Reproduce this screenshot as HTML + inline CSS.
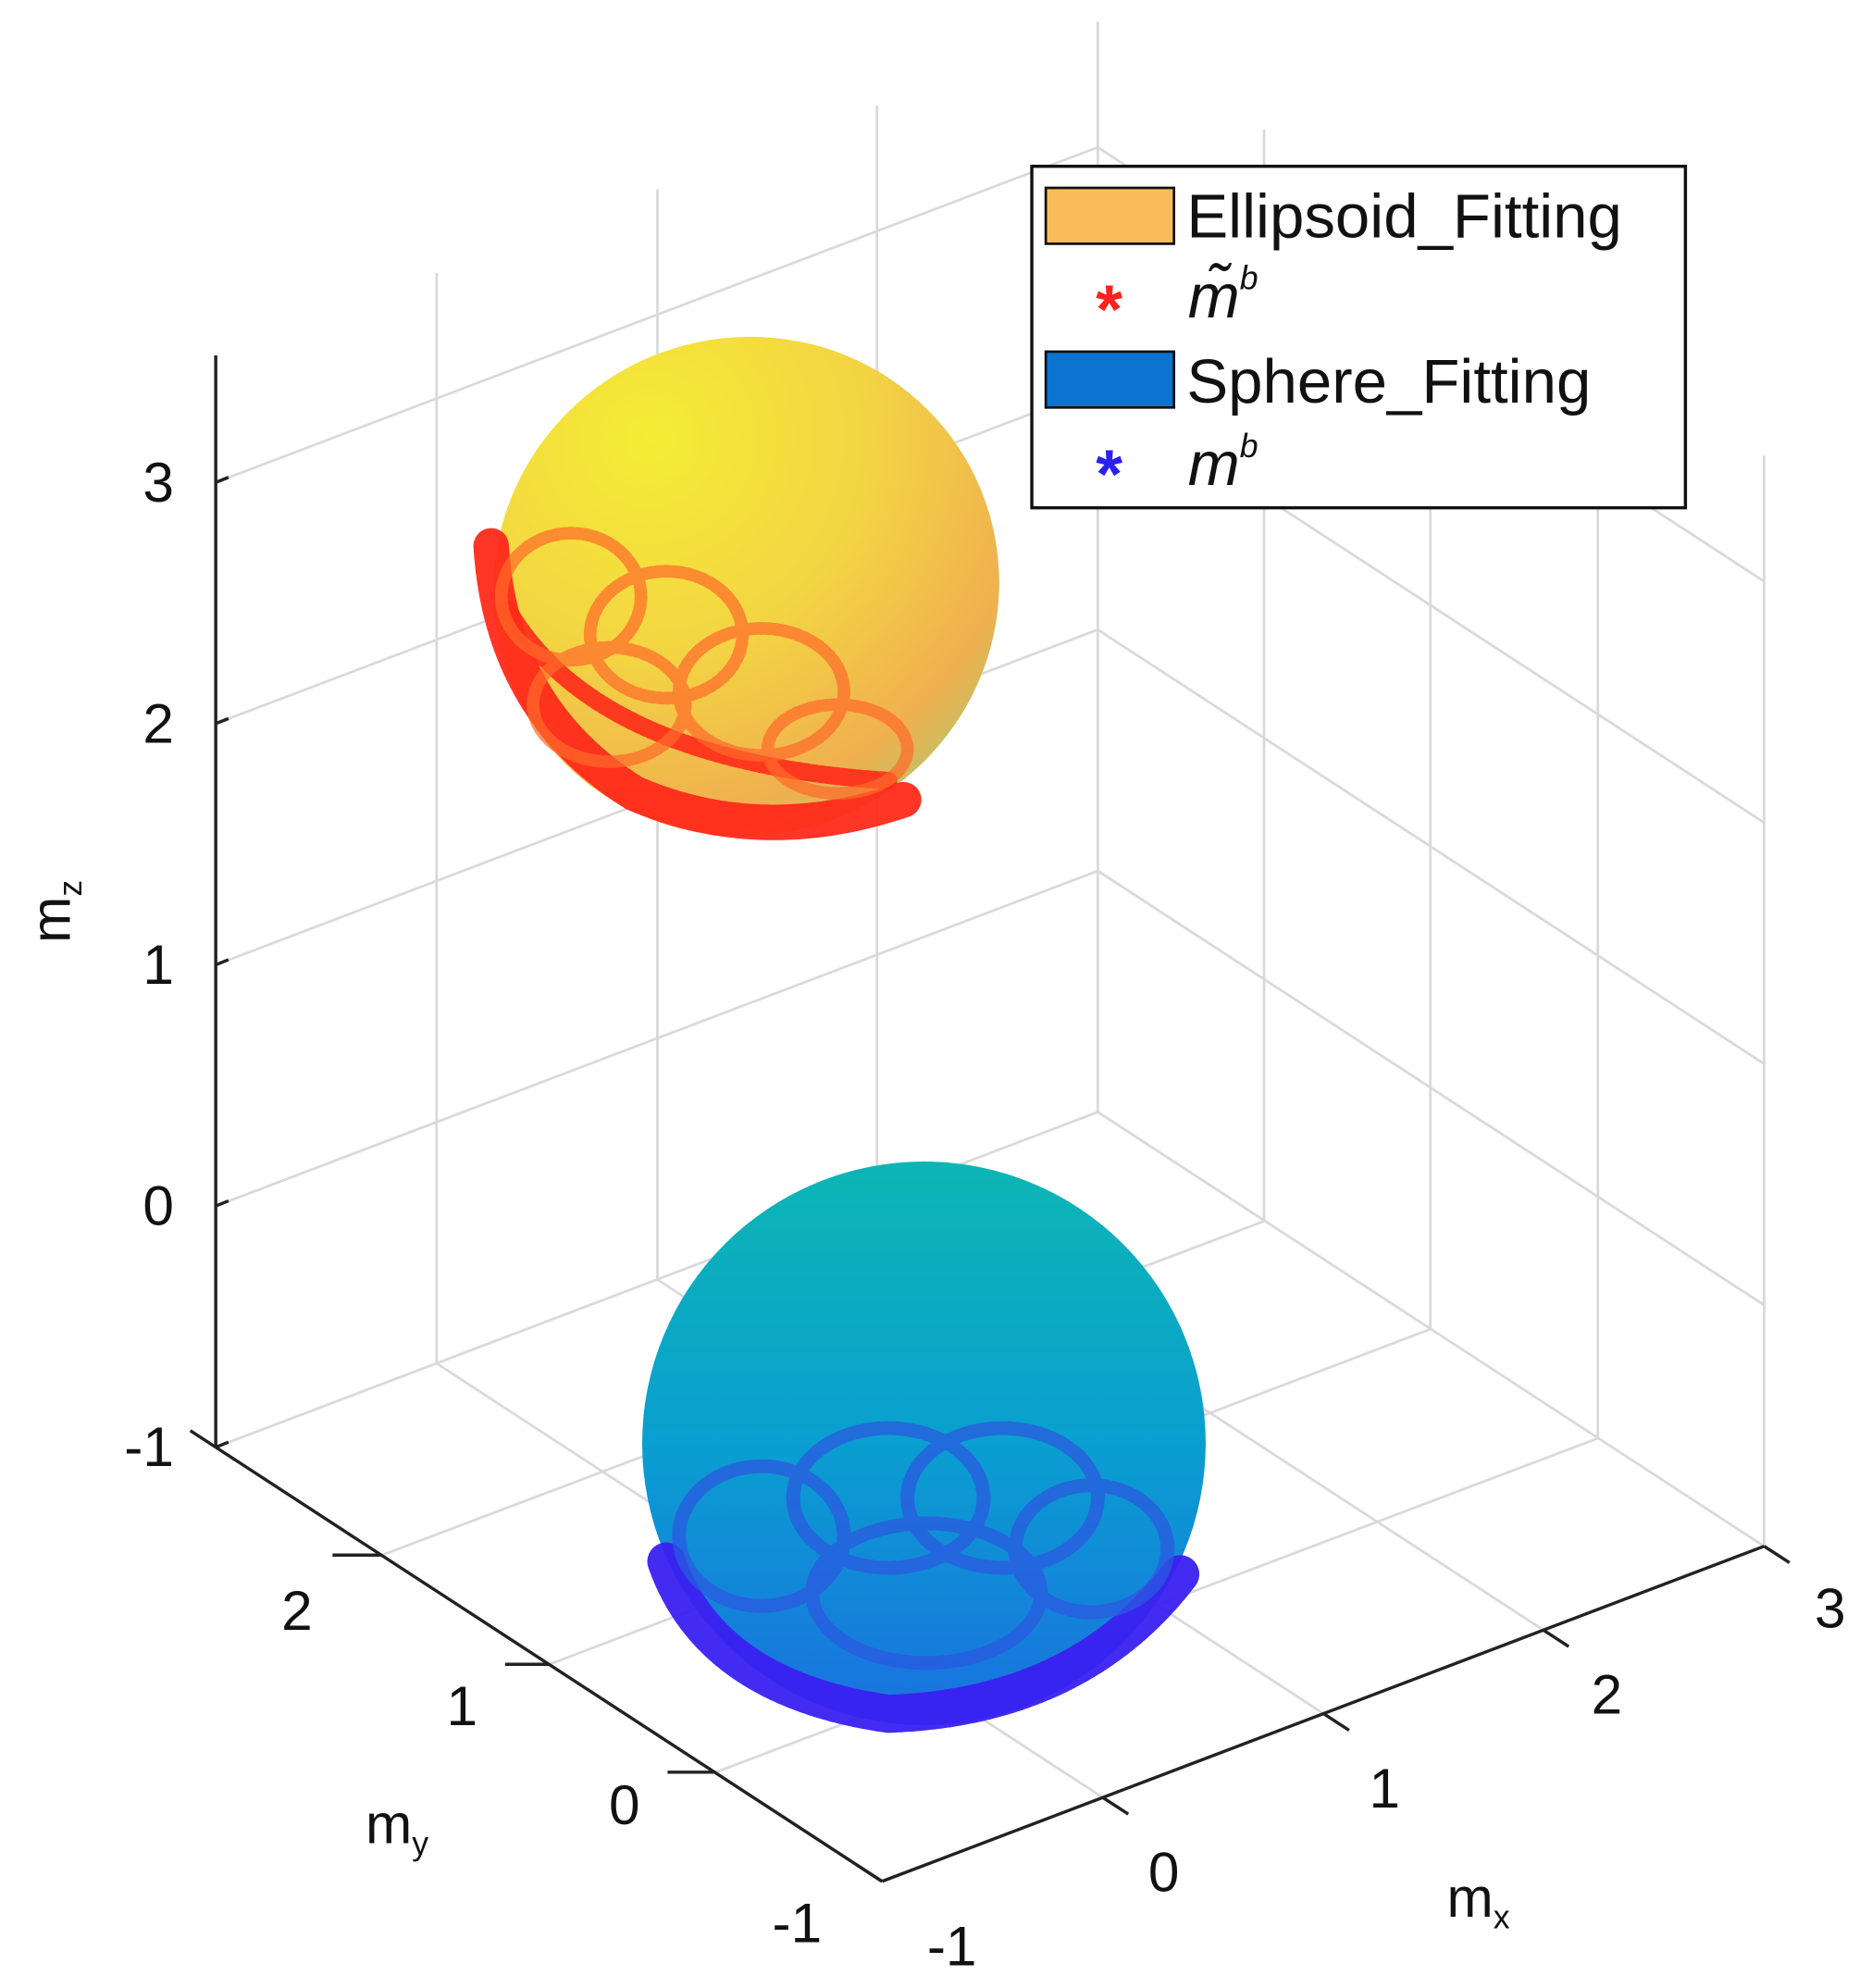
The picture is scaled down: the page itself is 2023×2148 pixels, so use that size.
<!DOCTYPE html>
<html><head><meta charset="utf-8"><style>html,body{margin:0;padding:0;background:#fff}svg{display:block}</style></head>
<body>
<svg width="2023" height="2148" viewBox="0 0 1475 1566" preserveAspectRatio="none" xmlns="http://www.w3.org/2000/svg" font-family="Liberation Sans, Arial, sans-serif">
<defs>
<radialGradient id="ell" cx="0.45" cy="0.15" r="0.95">
<stop offset="0" stop-color="#f5ec35"/><stop offset="0.45" stop-color="#f3d543"/><stop offset="0.8" stop-color="#f0b04f"/><stop offset="1" stop-color="#a8c970"/>
</radialGradient>
<linearGradient id="sph" x1="0" y1="0" x2="0" y2="1">
<stop offset="0" stop-color="#0cb6b4"/><stop offset="0.5" stop-color="#0a9fd0"/><stop offset="1" stop-color="#1a70e0"/>
</linearGradient>
</defs>
<g stroke="#d9d9d9" stroke-width="2" fill="none">
<line x1="170" y1="280" x2="170" y2="1140"/>
<line x1="344" y1="215" x2="344" y2="1074"/>
<line x1="518" y1="149" x2="518" y2="1008"/>
<line x1="691" y1="83" x2="691" y2="942"/>
<line x1="865" y1="17" x2="865" y2="876"/>
<line x1="170" y1="380" x2="865" y2="116"/>
<line x1="170" y1="570" x2="865" y2="306"/>
<line x1="170" y1="760" x2="865" y2="496"/>
<line x1="170" y1="950" x2="865" y2="686"/>
<line x1="170" y1="1140" x2="865" y2="876"/>
<line x1="996" y1="102" x2="996" y2="962"/>
<line x1="1127" y1="188" x2="1127" y2="1047"/>
<line x1="1259" y1="273" x2="1259" y2="1133"/>
<line x1="1390" y1="359" x2="1390" y2="1218"/>
<line x1="865" y1="116" x2="1390" y2="458"/>
<line x1="865" y1="306" x2="1390" y2="648"/>
<line x1="865" y1="496" x2="1390" y2="838"/>
<line x1="865" y1="686" x2="1390" y2="1028"/>
<line x1="865" y1="876" x2="1390" y2="1218"/>
<line x1="344" y1="1074" x2="869" y2="1416"/>
<line x1="518" y1="1008" x2="1043" y2="1350"/>
<line x1="691" y1="942" x2="1216" y2="1284"/>
<line x1="301" y1="1225" x2="996" y2="962"/>
<line x1="433" y1="1311" x2="1127" y2="1047"/>
<line x1="564" y1="1396" x2="1259" y2="1133"/>
</g>
<g stroke="#222" stroke-width="2.5" fill="none">
<line x1="170" y1="280" x2="170" y2="1140"/>
<line x1="170" y1="1140" x2="695" y2="1482"/>
<line x1="695" y1="1482" x2="1390" y2="1218"/>
<line x1="170" y1="380" x2="180" y2="376"/><line x1="170" y1="570" x2="180" y2="566"/><line x1="170" y1="760" x2="180" y2="756"/><line x1="170" y1="950" x2="180" y2="946"/><line x1="170" y1="1140" x2="180" y2="1136"/>
<line x1="695" y1="1482" x2="675" y2="1469"/><line x1="564" y1="1396" x2="526" y2="1396"/><line x1="433" y1="1311" x2="398" y2="1311"/><line x1="301" y1="1225" x2="262" y2="1225"/><line x1="170" y1="1140" x2="150" y2="1127"/>
<line x1="869" y1="1416" x2="889" y2="1429"/><line x1="1043" y1="1350" x2="1063" y2="1363"/><line x1="1216" y1="1284" x2="1236" y2="1297"/><line x1="1390" y1="1218" x2="1410" y2="1231"/>
</g>
<g font-size="44" fill="#111">
<text x="137" y="395" text-anchor="end">3</text>
<text x="137" y="585" text-anchor="end">2</text>
<text x="137" y="775" text-anchor="end">1</text>
<text x="137" y="965" text-anchor="end">0</text>
<text x="137" y="1155" text-anchor="end">-1</text>
<text x="55" y="718" transform="rotate(-90 55 718)" text-anchor="middle">m<tspan font-size="26" dy="9">z</tspan></text>
<text x="234" y="1284" text-anchor="middle">2</text>
<text x="364" y="1359" text-anchor="middle">1</text>
<text x="492" y="1437" text-anchor="middle">0</text>
<text x="628" y="1530" text-anchor="middle">-1</text>
<text x="288" y="1452">m<tspan font-size="26" dy="9">y</tspan></text>
<text x="750" y="1548" text-anchor="middle">-1</text>
<text x="917" y="1490" text-anchor="middle">0</text>
<text x="1091" y="1424" text-anchor="middle">1</text>
<text x="1266" y="1350" text-anchor="middle">2</text>
<text x="1442" y="1282" text-anchor="middle">3</text>
<text x="1140" y="1510">m<tspan font-size="26" dy="9">x</tspan></text>
</g>
<ellipse cx="588" cy="462" rx="200" ry="196" transform="rotate(-25 588 462)" fill="url(#ell)"/>
<g fill="none" stroke="#ff2a1a" stroke-linecap="round">
<path d="M387 430 Q 395 560 500 625 Q 600 668 712 630" stroke-width="28" stroke-dasharray="4 2" opacity="0.95"/>
<path d="M400 480 Q 470 600 700 615" stroke-width="14" stroke-dasharray="3 3" opacity="0.9"/>
<g stroke="#ff6a2a" stroke-width="10" stroke-dasharray="3 3" opacity="0.7">
<ellipse cx="450" cy="470" rx="55" ry="50"/>
<ellipse cx="525" cy="500" rx="60" ry="50"/>
<ellipse cx="600" cy="545" rx="65" ry="50"/>
<ellipse cx="660" cy="590" rx="55" ry="35"/>
<ellipse cx="480" cy="555" rx="60" ry="45"/>
</g>
</g>
<circle cx="728" cy="1137" r="222" fill="url(#sph)"/>
<g fill="none" stroke-linecap="round">
<path d="M525 1230 Q 560 1330 700 1350 Q 850 1345 930 1240" stroke="#3a20f0" stroke-width="30" stroke-dasharray="4 2" opacity="0.95"/>
<g stroke="#2a5ae0" stroke-width="11" stroke-dasharray="3 3" opacity="0.75">
<ellipse cx="600" cy="1210" rx="65" ry="55"/>
<ellipse cx="700" cy="1180" rx="75" ry="55"/>
<ellipse cx="790" cy="1180" rx="75" ry="55"/>
<ellipse cx="860" cy="1220" rx="60" ry="50"/>
<ellipse cx="730" cy="1255" rx="90" ry="55"/>
</g>
</g>
<rect x="813" y="131" width="515" height="269" fill="#fff" stroke="#111" stroke-width="2.5"/>
<rect x="824" y="148" width="101" height="44" fill="#f8bd5a" stroke="#111" stroke-width="2"/>
<rect x="824" y="277" width="101" height="44" fill="#0a74d0" stroke="#111" stroke-width="2"/>
<g font-size="49" fill="#111">
<text x="935" y="187">Ellipsoid_Fitting</text>
<text x="935" y="317">Sphere_Fitting</text>
<text x="936" y="250" font-style="italic">m̃<tspan font-size="26" dy="-22">b</tspan></text>
<text x="936" y="382" font-style="italic">m<tspan font-size="26" dy="-22">b</tspan></text>
</g>
<text x="874" y="262" font-size="54" fill="#ff2020" text-anchor="middle" font-weight="bold">*</text>
<text x="874" y="392" font-size="54" fill="#2a20f0" text-anchor="middle" font-weight="bold">*</text>
</svg>
</body></html>
